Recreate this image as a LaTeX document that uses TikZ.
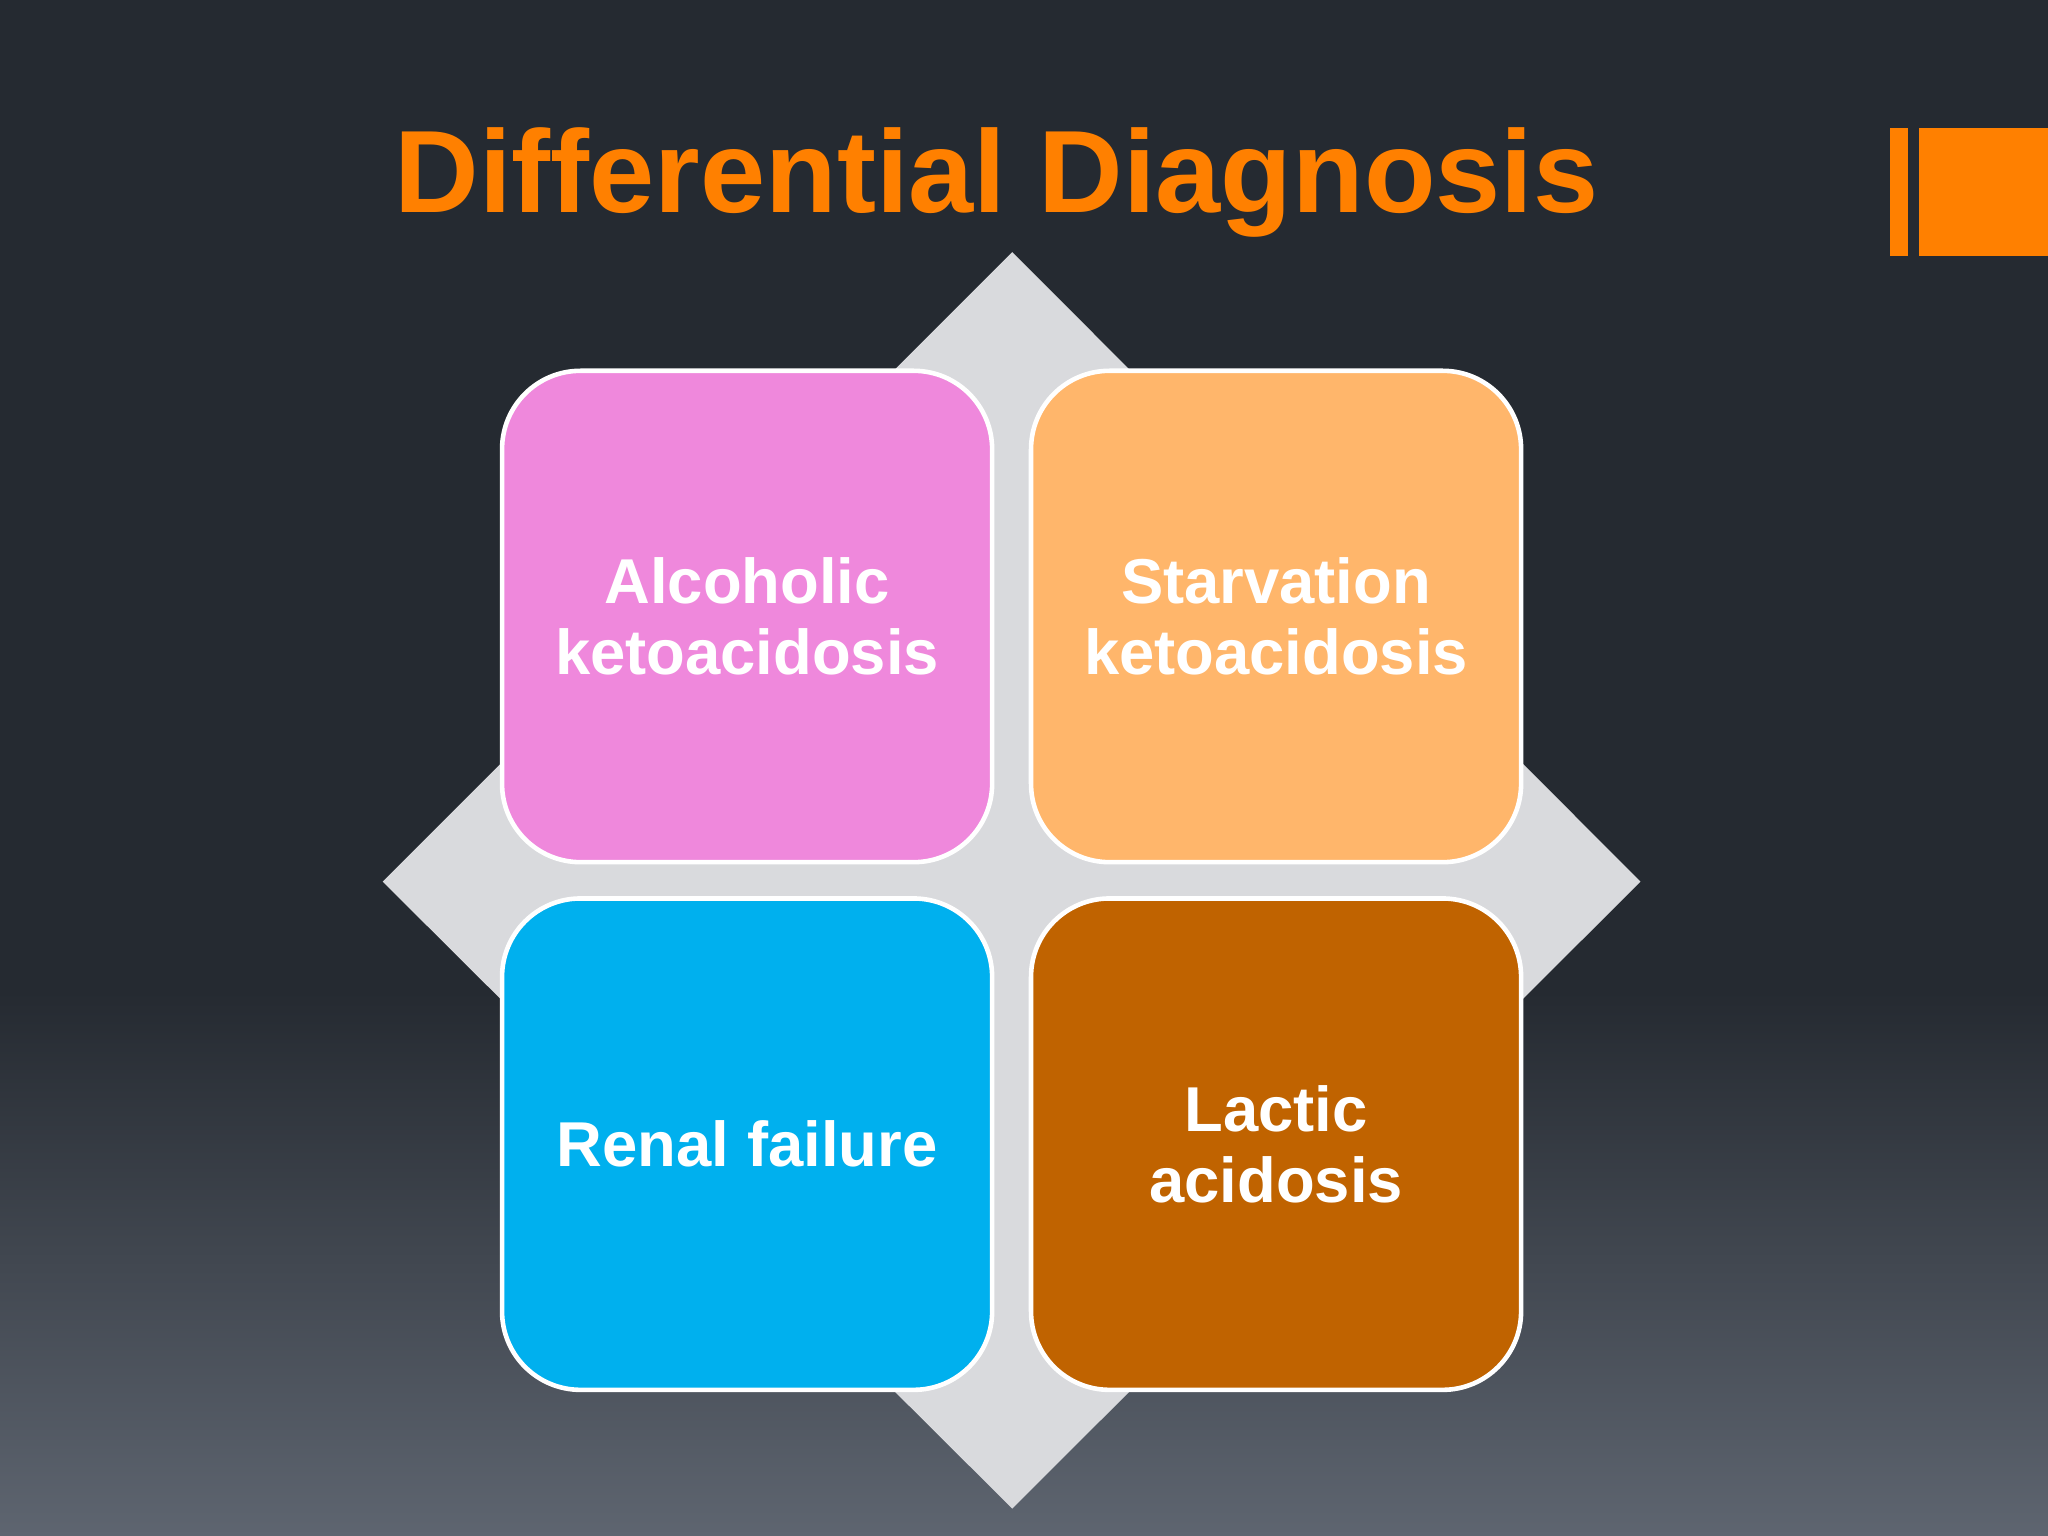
\documentclass[tikz,border=0pt]{standalone}
\usepackage{fontspec}
\setmainfont{Liberation Sans}
\definecolor{bgtop}{HTML}{252A31}
\definecolor{bgbot}{HTML}{5E6570}
\definecolor{orng}{HTML}{FF8000}
\definecolor{dgrey}{HTML}{D9DADD}
\definecolor{cpink}{HTML}{EF88DC}
\definecolor{corange}{HTML}{FFB66B}
\definecolor{cblue}{HTML}{00B0EE}
\definecolor{cbrown}{HTML}{C06300}
\begin{document}
\begin{tikzpicture}[x=0.01cm,y=-0.01cm,
  box/.style={draw=white,line width=1pt,rounded corners=0.6cm,minimum width=3.75cm,minimum height=3.76cm,inner sep=0pt,text=white,font=\fontsize{13.8}{15.5}\selectfont\bfseries,align=center}]
\useasboundingbox (0,0) rectangle (1568,1176);
\fill[bgtop] (0,0) rectangle (1568,760);
\shade[top color=bgtop,bottom color=bgbot] (0,759) rectangle (1568,1176);
\node[text=orng,font=\fontsize{25.5}{28}\selectfont\bfseries] (title) at (763,140) {Differential Diagnosis};
\fill[orng] (1447,98) rectangle (1461,196);
\fill[orng] (1469,98) rectangle (1568,196);
\fill[dgrey] (775,193) -- (1256,675) -- (775,1155) -- (293,675) -- cycle;
\node[box,fill=cpink] (a) at (572,472) {Alcoholic\\ketoacidosis};
\node[box,fill=corange] (b) at (977,472) {Starvation\\ketoacidosis};
\node[box,fill=cblue] (c) at (572,876) {Renal failure};
\node[box,fill=cbrown] (d) at (977,876) {Lactic\\acidosis};
\end{tikzpicture}
\end{document}
